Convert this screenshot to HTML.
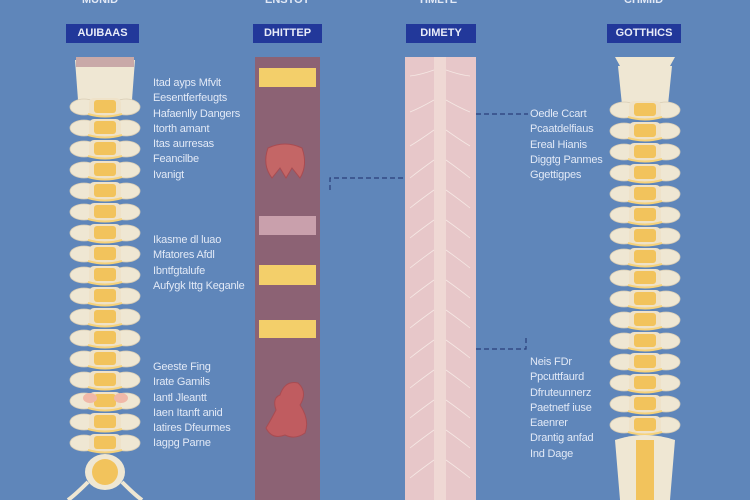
<!DOCTYPE html>
<html><head><meta charset="utf-8"><style>
html,body{margin:0;padding:0}
body{width:750px;height:500px;background:#5f86ba;position:relative;overflow:hidden;font-family:"Liberation Sans",sans-serif}
.h{position:absolute;top:24px;height:19px;background:#22389a;color:#e8ecf8;font-size:11px;font-weight:bold;text-align:center;line-height:19px}
.t{position:absolute;color:#e2e9f6;font-size:11px;line-height:15.3px;white-space:nowrap;letter-spacing:-0.2px}
.top{position:absolute;top:-6px;color:#e2e9f6;font-size:11px;font-weight:bold}
</style></head><body>
<div class="top" style="left:82px">MUNID</div>
<div class="top" style="left:265px">ENSTOT</div>
<div class="top" style="left:420px">HMLTE</div>
<div class="top" style="left:624px">CHMIID</div>
<div class="h" style="left:66px;width:73px">AUIBAAS</div>
<div class="h" style="left:253px;width:69px">DHITTEP</div>
<div class="h" style="left:406px;width:70px">DIMETY</div>
<div class="h" style="left:607px;width:74px">GOTTHICS</div>

<svg width="750" height="500" style="position:absolute;left:0;top:0">
<defs>
<g id="v">
<ellipse cx="-21" cy="0" rx="14" ry="8" fill="#efe7d3" stroke="#d8ccb4" stroke-width="0.8"/>
<ellipse cx="21" cy="0" rx="14" ry="8" fill="#efe7d3" stroke="#d8ccb4" stroke-width="0.8"/>
<rect x="-16" y="-9" width="32" height="18" rx="5" fill="#efe2c8"/>
<rect x="-11" y="-7" width="22" height="13" rx="3" fill="#f2c35c"/>
<path d="M-17 7 Q0 12 17 7" stroke="#f6d27a" stroke-width="2" fill="none"/>
</g>
</defs>
<path d="M75 60 L135 60 L132 100 L78 100Z" fill="#efe7d3"/>
<rect x="76" y="57" width="58" height="10" fill="#c9a9a8"/>
<use href="#v" x="105" y="107"/><use href="#v" x="105" y="128"/><use href="#v" x="105" y="149"/><use href="#v" x="105" y="170"/><use href="#v" x="105" y="191"/><use href="#v" x="105" y="212"/><use href="#v" x="105" y="233"/><use href="#v" x="105" y="254"/><use href="#v" x="105" y="275"/><use href="#v" x="105" y="296"/><use href="#v" x="105" y="317"/><use href="#v" x="105" y="338"/><use href="#v" x="105" y="359"/><use href="#v" x="105" y="380"/><use href="#v" x="105" y="401"/><use href="#v" x="105" y="422"/><use href="#v" x="105" y="443"/>
<ellipse cx="90" cy="398" rx="7" ry="5" fill="#f0b8a8"/><ellipse cx="121" cy="398" rx="7" ry="5" fill="#f0b8a8"/>
<ellipse cx="105" cy="472" rx="20" ry="18" fill="#efe7d3"/>
<ellipse cx="105" cy="472" rx="13" ry="13" fill="#f2c35c"/>
<path d="M88 482 Q75 495 68 500 M122 482 Q135 495 142 500" stroke="#efe7d3" stroke-width="4" fill="none"/>
<!-- column 2 -->
<rect x="255" y="57" width="65" height="443" fill="#8c6274"/>
<rect x="259" y="68" width="57" height="19" fill="#f3cf6a"/>
<rect x="259" y="216" width="57" height="19" fill="#c9a0ac"/>
<rect x="259" y="265" width="57" height="20" fill="#f3cf6a"/>
<rect x="259" y="320" width="57" height="18" fill="#f3cf6a"/>
<path d="M268 148 Q285 140 302 148 Q308 165 300 178 L292 168 L286 178 L280 168 L272 178 Q262 165 268 148Z" fill="#c46666" stroke="#a84c52" stroke-width="1"/>
<path d="M280 395 Q285 380 298 383 Q308 392 300 405 Q310 420 305 433 Q295 440 285 435 Q272 440 266 428 Q272 418 276 410 Q272 398 280 395Z" fill="#c05c60" stroke="#a84c52" stroke-width="1"/>
<!-- column 3 -->
<rect x="405" y="57" width="71" height="443" fill="#e7c7c9"/>
<rect x="434" y="57" width="12" height="443" fill="#efd8d4"/>
<g stroke="#f5e8e4" stroke-width="0.8" fill="none">
<path d="M434 70 Q420 75 410 76 M446 70 Q460 75 470 76 M434 100 Q420 108 410 112 M446 100 Q460 108 470 112 M434 130 Q420 140 410 146 M446 130 Q460 140 470 146 M434 160 Q420 170 410 178 M446 160 Q460 170 470 178 M434 190 Q420 200 410 208 M446 190 Q460 200 470 208 M434 220 Q420 230 410 238 M446 220 Q460 230 470 238 M434 250 Q420 260 410 268 M446 250 Q460 260 470 268 M434 280 Q420 290 410 298 M446 280 Q460 290 470 298 M434 310 Q420 320 410 328 M446 310 Q460 320 470 328 M434 340 Q420 350 410 358 M446 340 Q460 350 470 358 M434 370 Q420 380 410 388 M446 370 Q460 380 470 388 M434 400 Q420 410 410 418 M446 400 Q460 410 470 418 M434 430 Q420 440 410 448 M446 430 Q460 440 470 448 M434 460 Q420 470 410 478 M446 460 Q460 470 470 478"/>
</g>
<g stroke="#2a3f7a" stroke-width="1.2" stroke-dasharray="5,3" fill="none">
<path d="M476 114 L528 114"/>
<path d="M330 190 L330 178 L405 178"/>
<path d="M476 349 L526 349 L526 338"/>
</g>
<!-- right spine -->
<path d="M615 57 L675 57 L670 66 L620 66Z" fill="#efe7d3"/>
<path d="M618 66 L672 66 L668 105 L622 105Z" fill="#efe7d3"/>
<use href="#v" x="645" y="110"/><use href="#v" x="645" y="131"/><use href="#v" x="645" y="152"/><use href="#v" x="645" y="173"/><use href="#v" x="645" y="194"/><use href="#v" x="645" y="215"/><use href="#v" x="645" y="236"/><use href="#v" x="645" y="257"/><use href="#v" x="645" y="278"/><use href="#v" x="645" y="299"/><use href="#v" x="645" y="320"/><use href="#v" x="645" y="341"/><use href="#v" x="645" y="362"/><use href="#v" x="645" y="383"/><use href="#v" x="645" y="404"/><use href="#v" x="645" y="425"/>
<path d="M615 440 Q645 430 675 440 L670 500 L620 500Z" fill="#efe7d3"/>
<rect x="636" y="440" width="18" height="60" fill="#f2c35c"/>
</svg>

<div class="t" style="left:153px;top:76px">Itad ayps Mfvlt<br>Eesentferfeugts<br>Hafaenlly Dangers<br>Itorth amant<br>Itas aurresas<br>Feancilbe<br>Ivanigt</div>
<div class="t" style="left:153px;top:233px">Ikasme dl luao<br>Mfatores Afdl<br>Ibntfgtalufe<br>Aufygk Ittg Keganle</div>
<div class="t" style="left:153px;top:360px">Geeste Fing<br>Irate Gamils<br>Iantl Jleantt<br>Iaen Itanft anid<br>Iatires Dfeurmes<br>Iagpg Parne</div>
<div class="t" style="left:530px;top:107px">Oedle Ccart<br>Pcaatdelfiaus<br>Ereal Hianis<br>Diggtg Panmes<br>Ggettigpes</div>
<div class="t" style="left:530px;top:355px">Neis FDr<br>Ppcuttfaurd<br>Dfruteunnerz<br>Paetnetf iuse<br>Eaenrer<br>Drantig anfad<br>Ind Dage</div>
</body></html>
